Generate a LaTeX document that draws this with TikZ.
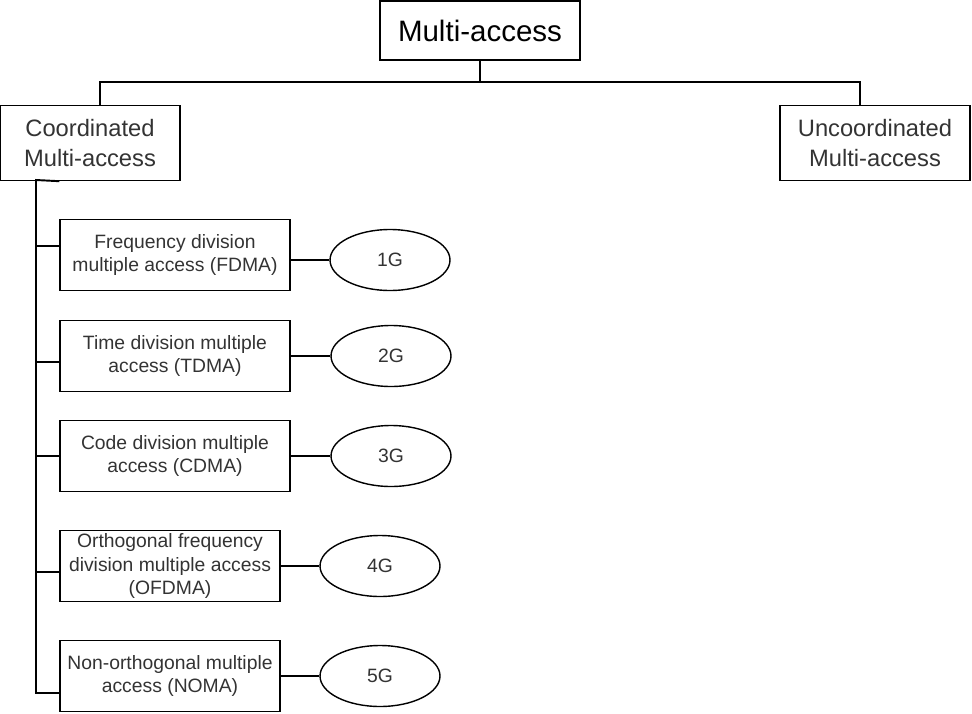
\documentclass[tikz,border=0pt]{standalone}
\usepackage{fontspec}
\setmainfont{Liberation Sans}
\usetikzlibrary{shapes.geometric,calc}
\tikzset{
  boxbase/.style={draw=black, line width=0.8pt, rectangle, inner sep=0pt, align=center, text=black!80},
  topbox/.style={boxbase, text=black, font=\fontsize{16.8}{20}\selectfont, minimum width=4cm, minimum height=1.18cm},
  catbox/.style={boxbase, font=\fontsize{13.5}{17.6}\selectfont, minimum height=1.5cm},
  methbox/.style={boxbase, font=\fontsize{11}{13.4}\selectfont, minimum height=1.42cm},
  genoval/.style={draw=black, line width=0.8pt, ellipse, inner sep=0pt, text=black!80, font=\fontsize{11}{13.4}\selectfont, minimum width=2.4cm, minimum height=1.22cm},
  conn/.style={draw=black, line width=1.1pt}
}
\begin{document}
\begin{tikzpicture}[x=0.02cm, y=-0.02cm]
\useasboundingbox (0,0) rectangle (972,713);
\node[topbox] (top) at (480,30.5) {Multi-access};
\node[catbox, minimum width=3.6cm] (coord) at (90,143) {Coordinated\\Multi-access};
\node[catbox, minimum width=3.8cm] (uncoord) at (875,143) {Uncoordinated\\Multi-access};

\node[methbox, minimum width=4.6cm] (m1) at (175,255) {Frequency division\\multiple access (FDMA)};
\node[methbox, minimum width=4.6cm] (m2) at (175,356) {Time division multiple\\access (TDMA)};
\node[methbox, minimum width=4.6cm] (m3) at (175,456) {Code division multiple\\access (CDMA)};
\node[methbox, minimum width=4.4cm] (m4) at (170,566) {Orthogonal frequency\\division multiple access\\(OFDMA)};
\node[methbox, minimum width=4.4cm] (m5) at (170,676) {Non-orthogonal multiple\\access (NOMA)};

\node[genoval] (g1) at (390,260) {1G};
\node[genoval] (g2) at (391,356) {2G};
\node[genoval] (g3) at (391,456) {3G};
\node[genoval] (g4) at (380,566) {4G};
\node[genoval] (g5) at (380,676) {5G};

\coordinate (bus) at (480,82);
\coordinate (tr) at (36,180);
\coordinate (b1) at ([yshift=0.18cm]m1.west);
\coordinate (b2) at ([yshift=-0.12cm]m2.west);
\coordinate (b3) at (m3.west);
\coordinate (b4) at ([yshift=-0.12cm]m4.west);
\coordinate (b5) at ([yshift=-0.34cm]m5.west);
\coordinate (cstart) at ([xshift=1.2cm]coord.south west);
\coordinate (cN) at ([xshift=0.2cm]coord.north);
\coordinate (uN) at ([xshift=-0.3cm]uncoord.north);

\draw[conn] (top.south) -- (bus) -| (cN);
\draw[conn] (bus) -| (uN);

\draw[conn] (cstart) -- (tr) |- (b5);
\draw[conn] (tr |- b1) -- (b1);
\draw[conn] (tr |- b2) -- (b2);
\draw[conn] (tr |- b3) -- (b3);
\draw[conn] (tr |- b4) -- (b4);

\draw[conn] (g1.west -| m1.east) -- (g1.west);
\draw[conn] (g2.west -| m2.east) -- (g2.west);
\draw[conn] (g3.west -| m3.east) -- (g3.west);
\draw[conn] (g4.west -| m4.east) -- (g4.west);
\draw[conn] (g5.west -| m5.east) -- (g5.west);
\end{tikzpicture}
\end{document}
